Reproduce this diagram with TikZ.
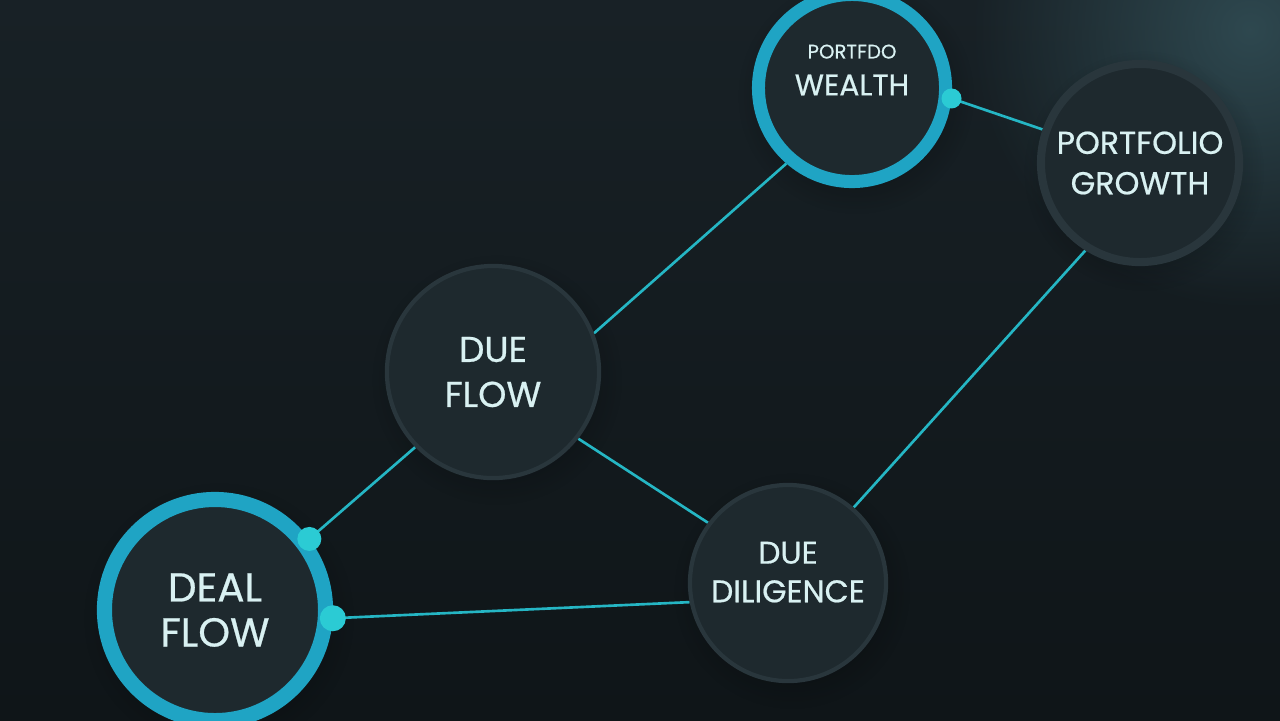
\documentclass[tikz,border=0pt]{standalone}
\usepackage{fontspec}
\setmainfont{Poppins}[FakeBold=0.6]
\usetikzlibrary{fadings}
\definecolor{bgtop}{HTML}{182126}
\definecolor{bgbot}{HTML}{0F1518}
\definecolor{glow}{HTML}{34525A}
\definecolor{hubfill}{HTML}{1E292E}
\definecolor{hubedge}{HTML}{29363C}
\definecolor{ringcyan}{HTML}{1FA4C4}
\definecolor{linkcyan}{HTML}{25B6C4}
\definecolor{knobcyan}{HTML}{2BCBD4}
\definecolor{labelc}{HTML}{D9F1F2}
\tikzfading[name=glowfade, inner color=transparent!20, outer color=transparent!100]
\pgfdeclarelayer{bg}
\pgfdeclarelayer{edges}
\pgfsetlayers{bg,edges,main}

\begin{document}
\begin{tikzpicture}[
    x=0.01cm, y=-0.01cm,
    hub/.style={
        circle, draw=hubedge, fill=hubfill,
        line width=1.2pt,
        inner sep=0pt,
        align=center,
        text=labelc,
        font=\fontsize{10.2}{12.8}\selectfont
    },
    ringed/.style={draw=ringcyan, line width=#1},
    link/.style={draw=linkcyan, line width=0.75pt},
    knob/.style={circle, fill=knobcyan, inner sep=0pt, minimum size=#1}
]
\useasboundingbox (0,0) rectangle (1280,720);
% background
\begin{pgfonlayer}{bg}
\begin{scope}
\clip (0,0) rectangle (1280,720);
\shade[top color=bgtop, bottom color=bgbot] (0,0) rectangle (1280,720);
\fill[glow, path fading=glowfade] (1250,30) circle (280);
% soft shadows under the hubs
\foreach \cx/\cy/\r in {215/610/125, 493/372/115, 852/88/108, 1140/163/110, 788/583/108}
    \fill[black, opacity=0.8, path fading=glowfade] (\cx+4,\cy+8) circle (\r+10);
\end{scope}
\end{pgfonlayer}

% nodes
\node[hub, ringed=4.3pt, minimum size=2.21cm,
    font=\fontsize{11.5}{12.8}\selectfont] (deal) at (215,610) {DEAL\\FLOW};
\node[hub, minimum size=2.12cm] (flow) at (493,372) {DUE\\FLOW};
\node[hub, ringed=3.7pt, minimum size=1.87cm, text depth=0.36cm,
    font=\fontsize{8.5}{10.5}\selectfont] (wealth) at (852,88)
    {{\fontsize{5.6}{7}\selectfont PORTFDO}\\WEALTH};
\node[hub, line width=2.3pt, minimum size=1.98cm,
    font=\fontsize{9}{11.5}\selectfont] (growth) at (1140,163) {PORTFOLIO\\GROWTH};
\node[hub, minimum size=1.96cm, text depth=0.22cm,
    font=\fontsize{8.9}{11}\selectfont] (dili) at (788,583) {DUE\\DILIGENCE};

% connectors
\begin{pgfonlayer}{edges}
\draw[link] (deal.37) -- (flow.224);
\draw[link] (deal.-4) -- (dili.191);
\draw[link] (flow.21) -- (wealth.229);
\draw[link] (flow.-38) -- (dili.143);
\draw[link] (wealth.-6) -- (growth.161);
\draw[link] (growth.238) -- (dili.49);
\end{pgfonlayer}

% knobs on the rings
\node[knob=0.24cm] (k1) at (deal.37) {};
\node[knob=0.26cm] (k2) at (deal.-4) {};
\node[knob=0.2cm] (k3) at (wealth.-6) {};
\end{tikzpicture}
\end{document}
